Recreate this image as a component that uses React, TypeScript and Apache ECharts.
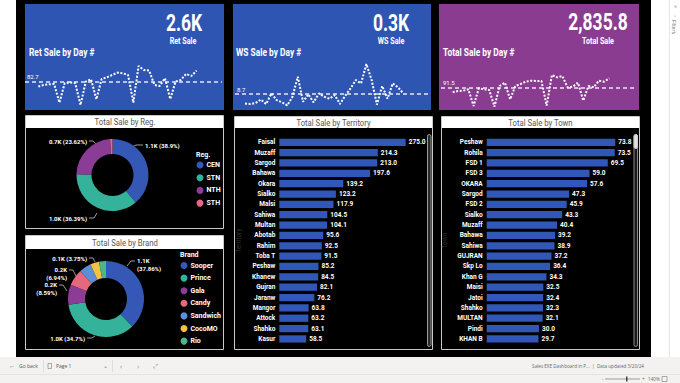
import React, { useEffect, useRef } from 'react';
import * as echarts from 'echarts';

// ---------- DATA ----------
const days = [1, 2, 3, 4, 5, 6, 7, 8, 9, 10, 11, 12, 13, 14, 15, 16, 17, 18, 19, 20, 21, 22, 23, 24, 25, 26, 27, 28, 29, 30, 31];
const retSale = [71.5, 75.2, 76.7, 77.5, 35.5, 78.9, 81.2, 78.9, 30.2, 82.7, 88.0, 43.0, 88.7, 92.5, 97.7, 103.0, 101.5, 97.7, 35.5, 117.9, 108.9, 107.5, 75.2, 73.0, 90.2, 43.7, 82.7, 86.5, 100.0, 95.5, 107.5];
const wsSale = [2.5, 2.1, 2.8, 5.0, 2.1, 9.1, 4.7, 3.2, 1.2, 6.9, 20.1, 3.6, 8.5, 3.2, 9.1, 6.9, 5.6, 8.0, 2.1, 7.6, 12.4, 17.9, 15.7, 28.5, 17.9, 1.7, 14.0, 5.6, 15.7, 13.1, 9.1];
const totalSale = [78.2, 82.0, 83.0, 86.8, 39.3, 89.6, 86.8, 84.9, 37.4, 96.3, 105.8, 58.3, 96.3, 102.0, 108.6, 111.5, 110.5, 110.5, 40.2, 127.6, 120.9, 124.8, 92.5, 94.4, 105.8, 54.5, 96.3, 92.5, 111.5, 108.6, 118.1];
const retAvg = 82.7;
const wsAvg = 8.7;
const totalAvg = 91.5;
const kpiRet = '2.6K';
const kpiWs = '0.3K';
const kpiTotal = '2,835.8';

const regions = ['CEN', 'STN', 'NTH', 'STH'];
const regionSales = [1103.1, 1031.9, 669.8, 30.9];

const brands = ['Sooper', 'Prince', 'Gala', 'Candy', 'Sandwich', 'CocoMO', 'Rio'];
const brandSales = [1073.6, 984.0, 243.6, 196.8, 147.5, 106.3, 83.9];

const territories = ['Faisal', 'Muzaff', 'Sargod', 'Bahawa', 'Okara', 'Sialko', 'Malsi', 'Sahiwa', 'Multan', 'Abotab', 'Rahim', 'Toba T', 'Peshaw', 'Khanew', 'Gujran', 'Jaranw', 'Mangor', 'Attock', 'Shahko', 'Kasur'];
const territorySales = [275.0, 214.3, 213.0, 197.6, 139.2, 123.2, 117.9, 104.5, 104.1, 95.6, 92.5, 91.5, 85.2, 84.5, 82.1, 76.2, 63.8, 63.2, 63.1, 58.5];

const towns = ['Peshaw', 'Rohila', 'FSD 1', 'FSD 3', 'OKARA', 'Sargod', 'FSD 2', 'Sialko', 'Muzaff', 'Bahawa', 'Sahiwa', 'GUJRAN', 'Skp Lo', 'Khan G', 'Maisi', 'Jatoi', 'Shahko', 'MULTAN', 'Pindi', 'KHAN B'];
const townSales = [73.8, 73.5, 69.5, 59.0, 57.6, 47.3, 45.9, 43.3, 40.4, 39.2, 38.9, 37.2, 36.4, 34.3, 32.5, 32.4, 32.3, 32.1, 30.0, 29.7];

// ---------- STYLE ----------
const FONT = 'Roboto, "Noto Sans", sans-serif';
const SANS = '"Open Sans", "Noto Sans", sans-serif';
const BLUE = '#2F55B2';
const PURPLE = '#8A3D90';
const BAR = '#3157B8';
const regColors = ['#3557B6', '#35B39A', '#8B3D96', '#E4688A'];
const brandColors = ['#3557B6', '#35B39A', '#8B3D96', '#E4687E', '#5B8ED6', '#F3C244', '#4DB58C'];

// Power BI-like placement of the donut labels (layout, not data)
type LP = { x: number; y: number; align: string; pts: number[][] };
const regLabelLayout: Record<string, LP> = {
  CEN: { x: 145, y: 145, align: 'left', pts: [[132, 147], [136, 145], [143, 145]] },
  STN: { x: 87, y: 218, align: 'right', pts: [[97, 213], [94, 218], [89, 218]] },
  NTH: { x: 87, y: 141, align: 'right', pts: [[96, 144], [93, 141], [89, 141]] },
};
const brandLabelLayout: Record<string, LP> = {
  Sooper: { x: 137, y: 264, align: 'left', pts: [[127, 266], [131, 261], [135, 261]] },
  Prince: { x: 85, y: 338, align: 'right', pts: [[95, 336], [92, 338], [87, 338]] },
  Gala: { x: 57, y: 288, align: 'right', pts: [[67, 291], [63, 285], [59, 285]] },
  Candy: { x: 67, y: 273, align: 'right', pts: [[76, 276], [73, 270], [69, 270]] },
  CocoMO: { x: 87, y: 258, align: 'right', pts: [[95, 262], [93, 258], [89, 258]] },
};

function rect(x: number, y: number, w: number, h: number, style: any, z = 0, r = 0) {
  return { type: 'rect', silent: true, z, shape: { x, y, width: w, height: h, r }, style };
}
function text(x: number, y: number, t: string, font: string, fill: string, align = 'left', z = 10, extra: any = {}) {
  return {
    type: 'text', silent: true, z, x, y, ...extra,
    style: { text: t, font, fill, textAlign: align, textVerticalAlign: 'middle' },
  };
}
function line(x1: number, y1: number, x2: number, y2: number, stroke: string, z = 5, lw = 1) {
  return { type: 'line', silent: true, z, shape: { x1, y1, x2, y2 }, style: { stroke, lineWidth: lw } };
}

function sparkSeries(idx: number, values: number[], avg: number) {
  return {
    type: 'line',
    xAxisIndex: idx,
    yAxisIndex: idx,
    data: days.map((d, i) => [d, values[i]]),
    symbol: 'none',
    lineStyle: { color: '#ffffff', width: 2, type: [2, 1.6] },
    silent: true,
    z: 5,
    markLine: {
      silent: true,
      symbol: 'none',
      lineStyle: { color: '#e8e8f4', width: 1.5, type: [4, 3] },
      label: {
        position: 'insideStartTop',
        formatter: String(avg),
        color: '#ffffff',
        fontSize: 6,
        fontFamily: FONT,
        distance: 2,
      },
      data: [{ yAxis: avg }],
    },
  };
}

function barSeries(idx: number, values: number[]) {
  return {
    type: 'bar',
    xAxisIndex: idx,
    yAxisIndex: idx,
    data: values,
    barCategoryGap: '30%',
    itemStyle: { color: BAR },
    silent: true,
    label: {
      show: true,
      position: 'right',
      distance: 3,
      color: '#ffffff',
      fontWeight: 'bold',
      fontSize: 6.5,
      fontFamily: FONT,
      formatter: (p: any) => Number(p.value).toFixed(1),
    },
  };
}

function pieLayout(map: Record<string, LP>, names: string[]) {
  return (params: any) => {
    const lp = map[names[params.dataIndex]];
    if (!lp) return {};
    return { x: lp.x, y: lp.y, align: lp.align, verticalAlign: 'middle', labelLinePoints: lp.pts };
  };
}

const twoLine = new Set(['Sooper', 'Gala', 'Candy']);
const hiddenBrandLabels = new Set(['Sandwich', 'Rio']);

export default function App() {
  const ref = useRef<HTMLDivElement>(null);
  useEffect(() => {
    if (!ref.current) return;
    const chart = echarts.init(ref.current, undefined, { renderer: 'svg' });
    const kpiScale = { scaleX: 0.76 };
    const subScale = { scaleX: 0.8 };
    const headScale = { scaleX: 0.84 };
    const titleScale = { scaleX: 0.86 };

    const graphic: any[] = [
      // page
      rect(0, 0, 680, 383, { fill: '#ffffff' }, -5),
      rect(16, 0, 635, 357, { fill: '#000000' }, -4),
      rect(0, 357, 680, 26, { fill: '#F3F2F1' }, -4),
      line(0, 374.5, 680, 374.5, '#E3E3E3', -3),
      line(669.5, 0, 669.5, 357, '#E6E6E6', -3),
      // cards
      rect(25, 4, 199, 106, { fill: BLUE }, -2),
      rect(233, 4, 198, 106, { fill: BLUE }, -2),
      rect(439, 4, 200, 106, { fill: PURPLE }, -2),
      text(184, 23, kpiRet, `bold 23px ${FONT}`, '#ffffff', 'center', 10, kpiScale),
      text(183, 41, 'Ret Sale', `bold 9px ${FONT}`, '#ffffff', 'center', 10, subScale),
      text(29, 52, 'Ret Sale by Day #', `bold 10px ${FONT}`, '#ffffff', 'left', 10, headScale),
      text(391, 23, kpiWs, `bold 23px ${FONT}`, '#ffffff', 'center', 10, kpiScale),
      text(391, 41, 'WS Sale', `bold 9px ${FONT}`, '#ffffff', 'center', 10, subScale),
      text(236, 52, 'WS Sale by Day #', `bold 10px ${FONT}`, '#ffffff', 'left', 10, headScale),
      text(598, 22, kpiTotal, `bold 23px ${FONT}`, '#ffffff', 'center', 10, kpiScale),
      text(598, 41, 'Total Sale', `bold 9px ${FONT}`, '#ffffff', 'center', 10, subScale),
      text(443, 52, 'Total Sale by Day #', `bold 10px ${FONT}`, '#ffffff', 'left', 10, headScale),
      // panels
      rect(25.5, 115.5, 198, 113, { fill: '#000', stroke: '#C8C8C8', lineWidth: 1 }, -2),
      rect(26, 116, 197, 12, { fill: '#ffffff' }, -1),
      text(125, 122, 'Total Sale by Reg.', `9px ${FONT}`, '#555555', 'center', 10, titleScale),
      rect(25.5, 235.5, 198, 114, { fill: '#000', stroke: '#C8C8C8', lineWidth: 1 }, -2),
      rect(26, 236, 197, 13, { fill: '#ffffff' }, -1),
      text(125, 242.5, 'Total Sale by Brand', `9px ${FONT}`, '#555555', 'center', 10, titleScale),
      rect(234.5, 116.5, 198, 233, { fill: '#000', stroke: '#C8C8C8', lineWidth: 1 }, -2),
      rect(235, 117, 197, 11, { fill: '#ffffff' }, -1),
      text(333.5, 122.5, 'Total Sale by Territory', `9px ${FONT}`, '#555555', 'center', 10, titleScale),
      rect(441.5, 116.5, 198, 233, { fill: '#000', stroke: '#C8C8C8', lineWidth: 1 }, -2),
      rect(442, 117, 197, 11, { fill: '#ffffff' }, -1),
      text(540.5, 122.5, 'Total Sale by Town', `9px ${FONT}`, '#555555', 'center', 10, titleScale),
      // legend titles
      text(196, 155, 'Reg.', `bold 7px ${FONT}`, '#ffffff'),
      text(180, 255, 'Brand', `bold 7px ${FONT}`, '#ffffff'),
      // scrollbars
      rect(427.5, 134.5, 3.5, 212, { fill: '#2a2a2a', stroke: '#9a9a9a', lineWidth: 1 }, 3, 2),
      rect(634, 134.5, 3.5, 212, { fill: '#1a1a1a', stroke: '#8a8a8a', lineWidth: 1 }, 3, 2),
      rect(634, 134.5, 3.5, 14, { fill: '#e0e0e0', stroke: '#cfcfcf', lineWidth: 1 }, 4, 2),
      // bottom bar
      text(9, 366, '←', `6px ${SANS}`, '#666666'),
      text(19, 366, 'Go back', `5px ${SANS}`, '#555555'),
      line(43.5, 360, 43.5, 372, '#DDDDDD'),
      rect(48, 363.5, 3.5, 5, { fill: 'none', stroke: '#777', lineWidth: 0.6 }, 5),
      text(56, 366, 'Page 1', `5px ${SANS}`, '#555555'),
      text(103, 366, '⌄', `6px ${SANS}`, '#777777'),
      line(112.5, 360, 112.5, 372, '#DDDDDD'),
      text(120, 366, '‹', `7px ${SANS}`, '#888888'),
      text(137, 366, '›', `7px ${SANS}`, '#888888'),
      text(153, 366, '⤢', `6px ${SANS}`, '#888888'),
      text(644, 366, 'Sales EXE Dashboard in P...  |  Data updated 3/20/24', `4.6px ${SANS}`, '#666666', 'right'),
      line(605, 379, 640, 379, '#999999'),
      rect(626, 376.5, 1.5, 5, { fill: '#444' }, 6),
      text(602, 379, '-', `5px ${SANS}`, '#777777'),
      text(642, 379, '+', `5px ${SANS}`, '#777777'),
      text(648, 379, '140%', `4.6px ${SANS}`, '#666666'),
      rect(662, 376.5, 5, 5, { fill: 'none', stroke: '#777', lineWidth: 0.6 }, 5),
      // filters strip
      text(674, 6, '«', `6px ${SANS}`, '#777777'),
      text(674, 16, '▫', `5px ${SANS}`, '#999999'),
      text(674, 27, 'Filters', `5px ${SANS}`, '#666666', 'center', 10, { rotation: -Math.PI / 2 }),
    ];

    const labelStyle = { color: '#ffffff', fontWeight: 'bold', fontSize: 6, fontFamily: FONT, lineHeight: 8 };
    const legendText = { color: '#ffffff', fontWeight: 'bold', fontSize: 7, fontFamily: FONT, lineHeight: 8, padding: [0, 0, 0, -2] };

    const option: any = {
      animation: false,
      backgroundColor: 'transparent',
      graphic: { elements: graphic },
      grid: [
        { left: 25, top: 60.6, width: 197, height: 48.9 },
        { left: 235, top: 58.7, width: 195, height: 48.5 },
        { left: 441, top: 70.7, width: 195, height: 38.5 },
        { left: 279.3, top: 137.1, width: 126.4, height: 207 },
        { left: 486.7, top: 137.1, width: 128.6, height: 207 },
      ],
      xAxis: [
        { gridIndex: 0, type: 'value', show: false, min: -1.52, max: 35.8 },
        { gridIndex: 1, type: 'value', show: false, min: -0.9, max: 36.06 },
        { gridIndex: 2, type: 'value', show: false, min: -1.24, max: 36.11 },
        { gridIndex: 3, type: 'value', show: false, min: 0, max: 275 },
        { gridIndex: 4, type: 'value', show: false, min: 0, max: 73.8 },
      ],
      yAxis: [
        { gridIndex: 0, type: 'value', show: false, min: 20, max: 130 },
        { gridIndex: 1, type: 'value', show: false, min: 0, max: 32 },
        { gridIndex: 2, type: 'value', show: false, min: 30, max: 140 },
        {
          gridIndex: 3, type: 'category', data: territories, inverse: true,
          axisLine: { show: false }, axisTick: { show: false },
          axisLabel: { color: '#ffffff', fontWeight: 'bold', fontSize: 6.5, fontFamily: FONT, margin: 4 },
          name: 'Territory', nameLocation: 'middle', nameGap: 37, nameRotate: 90,
          nameTextStyle: { color: '#333333', fontSize: 6.5, fontFamily: FONT },
        },
        {
          gridIndex: 4, type: 'category', data: towns, inverse: true,
          axisLine: { show: false }, axisTick: { show: false },
          axisLabel: { color: '#ffffff', fontWeight: 'bold', fontSize: 6.5, fontFamily: FONT, margin: 4 },
          name: 'Town', nameLocation: 'middle', nameGap: 38, nameRotate: 90,
          nameTextStyle: { color: '#333333', fontSize: 6.5, fontFamily: FONT },
        },
      ],
      legend: [
        {
          data: regions, orient: 'vertical', left: 196.5, top: 161, icon: 'circle',
          itemWidth: 7, itemHeight: 7, itemGap: 4.7, padding: 0, selectedMode: false,
          textStyle: legendText,
        },
        {
          data: brands, orient: 'vertical', left: 180.5, top: 261.5, icon: 'circle',
          itemWidth: 7, itemHeight: 7, itemGap: 4.6, padding: 0, selectedMode: false,
          textStyle: legendText,
        },
      ],
      series: [
        sparkSeries(0, retSale, retAvg),
        sparkSeries(1, wsSale, wsAvg),
        sparkSeries(2, totalSale, totalAvg),
        barSeries(3, territorySales),
        barSeries(4, townSales),
        {
          type: 'pie',
          center: [112.5, 175],
          radius: [21, 36],
          startAngle: 90,
          silent: true,
          color: regColors,
          avoidLabelOverlap: false,
          data: regions.map((n, i) => ({
            name: n, value: regionSales[i],
            label: { show: n !== 'STH' }, labelLine: { show: n !== 'STH' },
          })),
          label: {
            position: 'outside', ...labelStyle,
            formatter: (p: any) => `${(p.value / 1000).toFixed(1)}K (${p.percent}%)`,
          },
          labelLine: { length: 5, length2: 7, lineStyle: { color: '#9a9a9a', width: 1 } },
          labelLayout: pieLayout(regLabelLayout, regions),
        },
        {
          type: 'pie',
          center: [106, 299],
          radius: [21, 38],
          startAngle: 90,
          silent: true,
          color: brandColors,
          avoidLabelOverlap: false,
          data: brands.map((n, i) => ({
            name: n, value: brandSales[i],
            label: { show: !hiddenBrandLabels.has(n) }, labelLine: { show: !hiddenBrandLabels.has(n) },
          })),
          label: {
            position: 'outside', ...labelStyle,
            formatter: (p: any) => `${(p.value / 1000).toFixed(1)}K${twoLine.has(p.name) ? '\n' : ' '}(${p.percent}%)`,
          },
          labelLine: { length: 5, length2: 7, lineStyle: { color: '#9a9a9a', width: 1 } },
          labelLayout: pieLayout(brandLabelLayout, brands),
        },
      ],
    };
    chart.setOption(option);
    return () => chart.dispose();
  }, []);
  return <div ref={ref} style={{ position: 'absolute', left: 0, top: 0, width: 680, height: 383 }} />;
}
